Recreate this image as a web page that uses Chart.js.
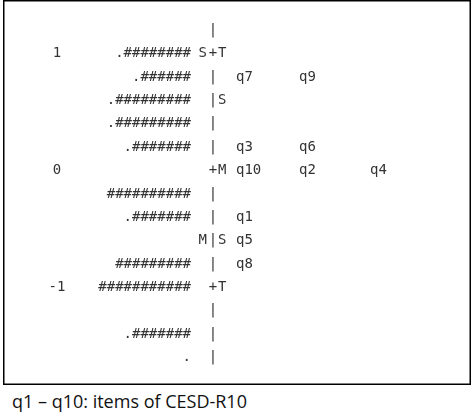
<!DOCTYPE html>
<html>
<head>
<meta charset="utf-8">
<script src="https://cdn.jsdelivr.net/npm/chart.js@4/dist/chart.umd.min.js"></script>
<style>
  body { margin: 0; background: #fff; }
  #wrap { position: absolute; left: 3px; top: 0; width: 468px; height: 385px; }
  #cap { position: absolute; left: 12px; top: 389px; font: 18px "Open Sans", sans-serif; color: #111; }
</style>
</head>
<body>
<div id="wrap"><canvas id="wright"></canvas></div>
<div id="cap">q1 – q10: items of CESD-R10</div>
<script>
// rows of the map, top to bottom (logit steps of 0.2)
var logits = [1.2, 1.0, 0.8, 0.6, 0.4, 0.2, 0.0, -0.2, -0.4, -0.6, -0.8, -1.0, -1.2, -1.4, -1.6];
var tickLabels = ["", "1", "", "", "", "", "0", "", "", "", "", "-1", "", "", ""];
var persons = ["", ".########", ".######", ".#########", ".#########", ".#######", "", "##########",
    ".#######", "", "#########", "###########", "", ".#######", "."];
var leftMarks = ["", "S", "", "", "", "", "", "", "", "M", "", "", "", "", ""];
var axisMarks = ["|", "+", "|", "|", "|", "|", "+", "|", "|", "|", "|", "+", "|", "|", "|"];
var rightMarks = ["", "T", "", "S", "", "", "M", "", "", "S", "", "T", "", "", ""];
var items1 = ["", "", "q7", "", "", "q3", "q10", "", "q1", "q5", "q8", "", "", "", ""];
var items2 = ["", "", "q9", "", "", "q6", "q2", "", "", "", "", "", "", "", ""];
var items3 = ["", "", "", "", "", "", "q4", "", "", "", "", "", "", "", ""];

// column anchors on the x scale (0..468) and text alignment
var columns = [
    { texts: tickLabels, x: 54, align: "center" },
    { texts: persons, x: 188, align: "right" },
    { texts: leftMarks, x: 204, align: "right" },
    { texts: axisMarks, x: 210, align: "center" },
    { texts: rightMarks, x: 215, align: "left" },
    { texts: items1, x: 233, align: "left" },
    { texts: items2, x: 296, align: "left" },
    { texts: items3, x: 367, align: "left" },
];

var datasets = columns.map(function (c) {
    return {
        data: logits.map(function (v) { return { x: c.x, y: v }; }),
        texts: c.texts,
        align: c.align,
        pointRadius: 0,
    };
});

var textPlugin = {
    id: "wrightText",
    afterDatasetsDraw: function (chart) {
        var ctx = chart.ctx;
        ctx.save();
        ctx.font = "14px 'DejaVu Sans Mono', monospace";
        ctx.fillStyle = "#333";
        ctx.textBaseline = "middle";
        chart.data.datasets.forEach(function (ds, i) {
            var meta = chart.getDatasetMeta(i);
            ctx.textAlign = ds.align;
            meta.data.forEach(function (pt, j) {
                if (ds.texts[j]) ctx.fillText(ds.texts[j], pt.x, pt.y);
            });
        });
        // frame
        ctx.strokeStyle = "#000";
        ctx.lineWidth = 1.5;
        ctx.strokeRect(0.75, 0.75, chart.width - 1.5, chart.height - 1.5);
        ctx.restore();
    },
};

var ctx = document.getElementById("wright").getContext("2d");
new Chart(ctx, {
    type: "scatter",
    data: { datasets: datasets },
    options: {
        responsive: true,
        maintainAspectRatio: false,
        animation: false,
        layout: { padding: 0 },
        plugins: { legend: { display: false }, tooltip: { enabled: false } },
        scales: {
            x: { display: false, min: 0, max: 468 },
            y: { display: false, min: -1.835, max: 1.46 },
        },
    },
    plugins: [textPlugin],
});
</script>
</body>
</html>
